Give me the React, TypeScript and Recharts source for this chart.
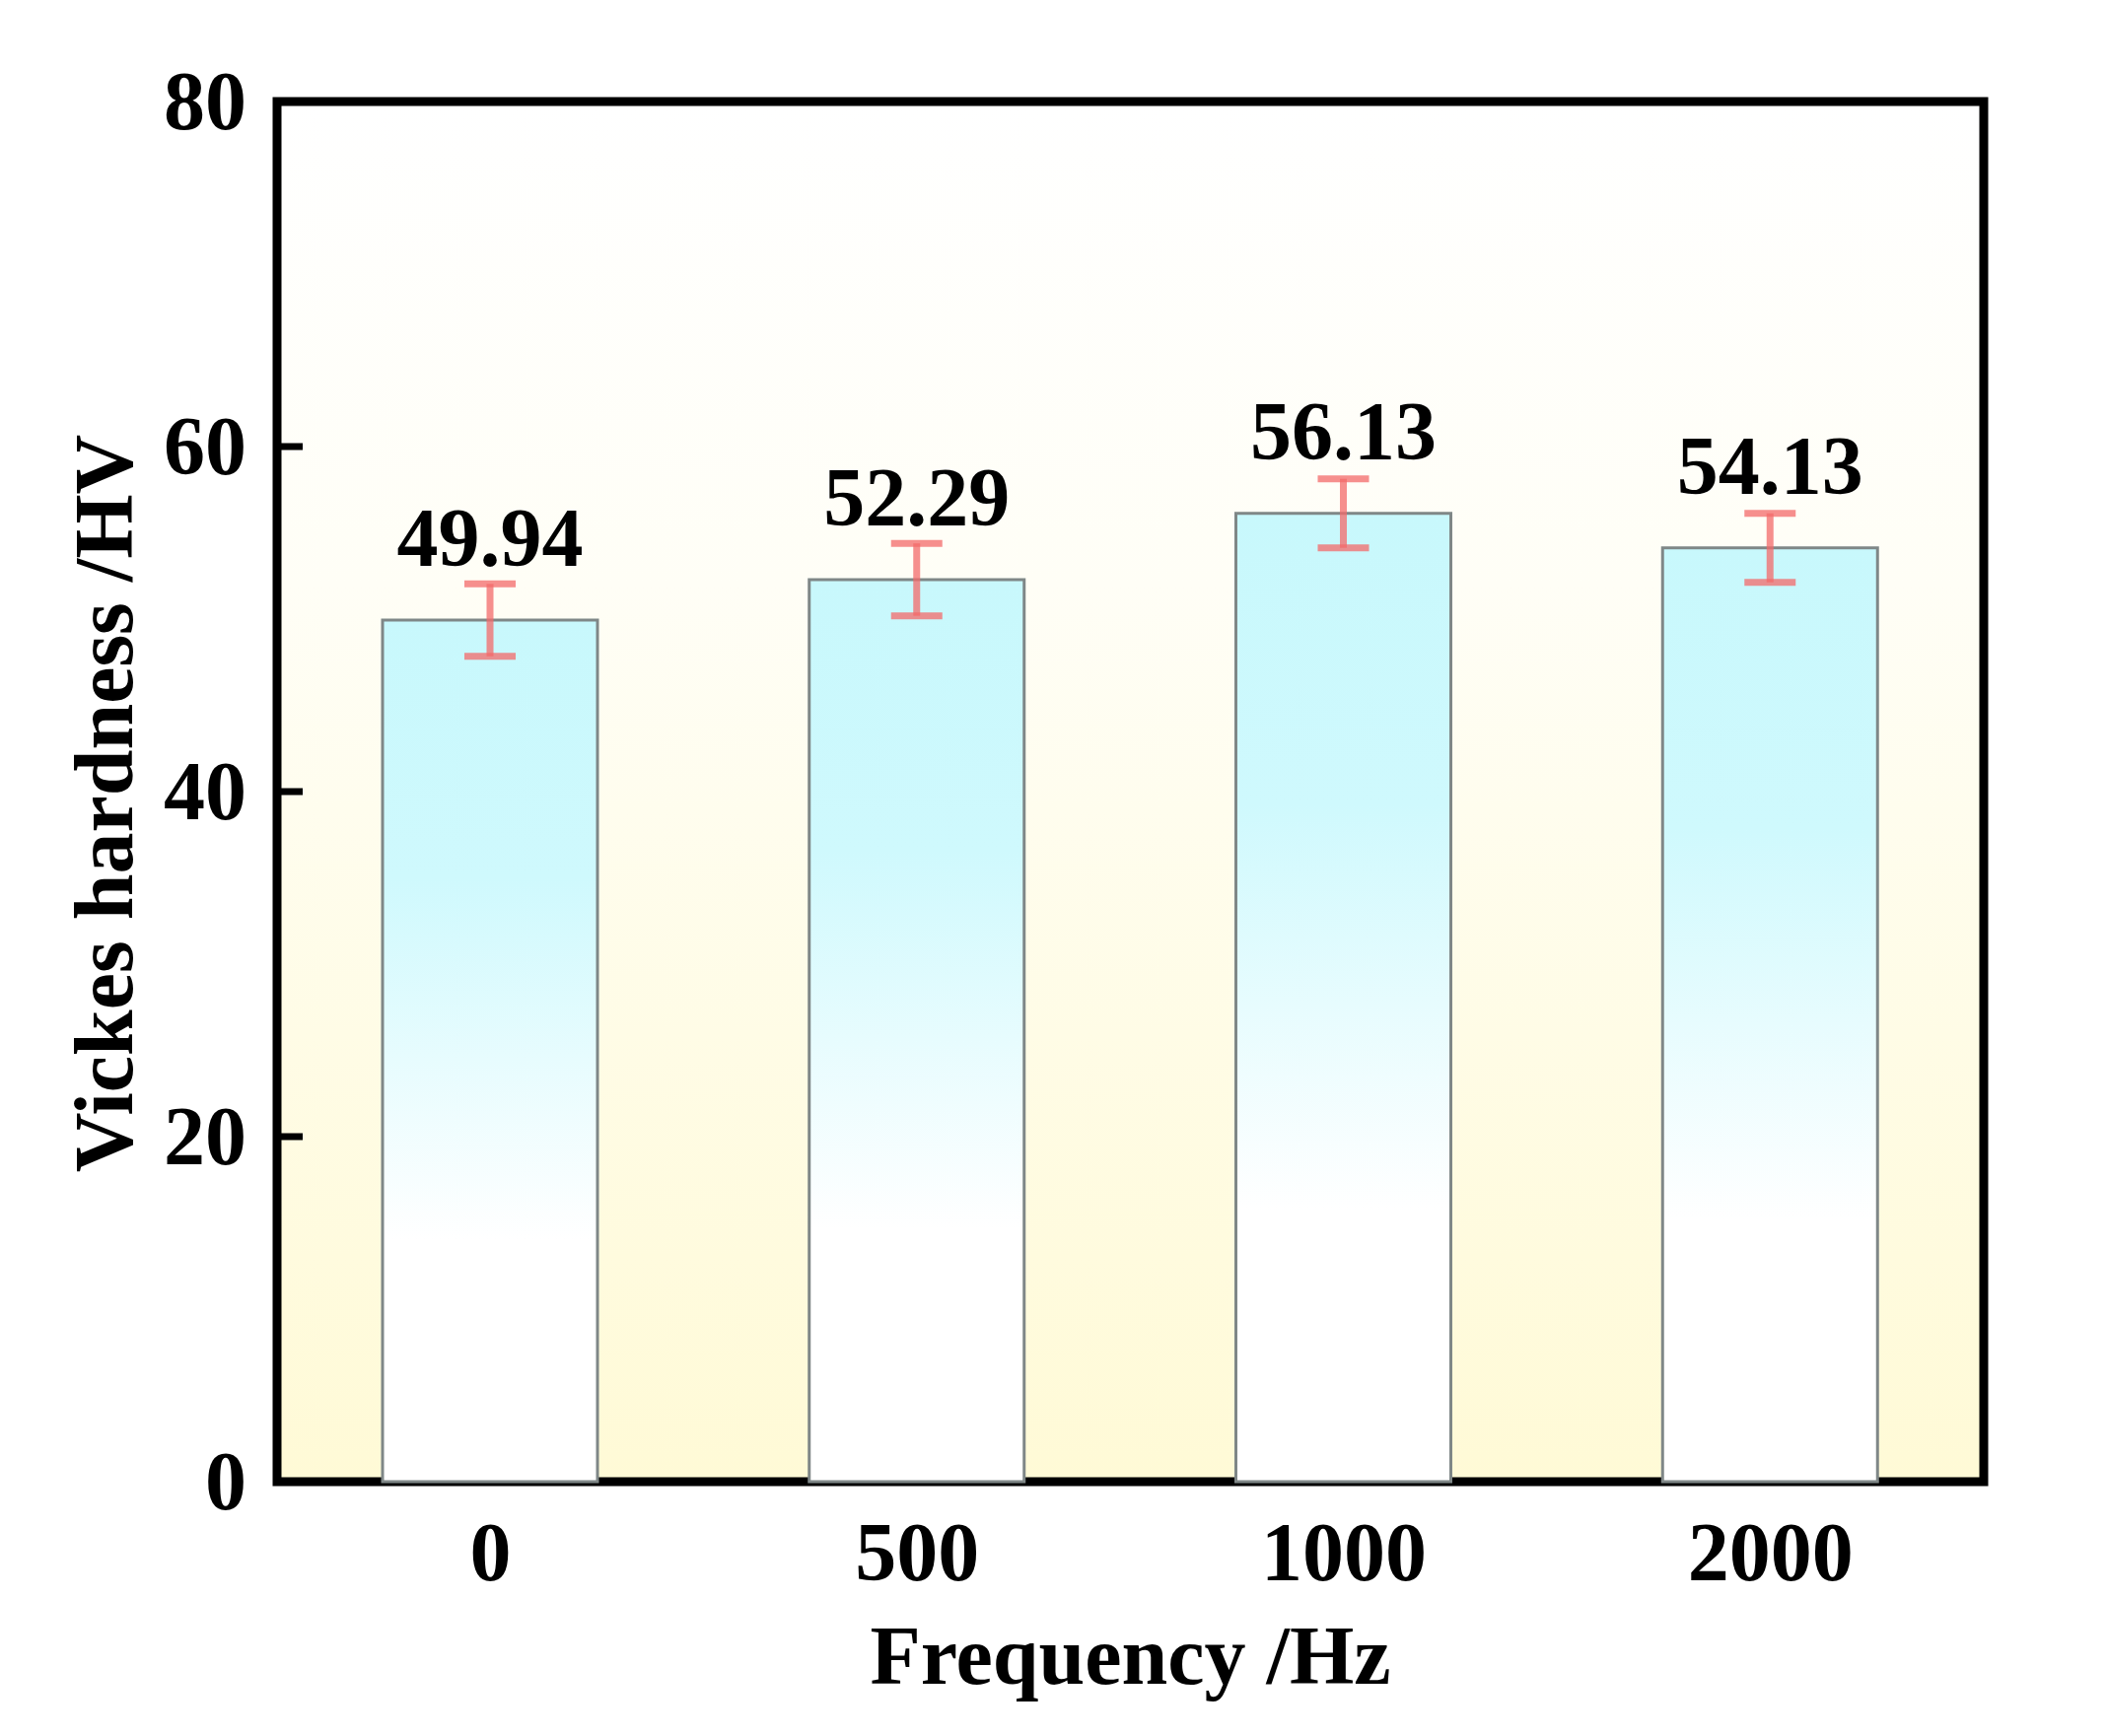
import React from 'react'
import {
  BarChart, Bar, XAxis, YAxis, CartesianGrid, ErrorBar, LabelList,
  Label, ReferenceArea,
} from 'recharts'

// Vickers hardness vs. vibration frequency
const frequencies = ['0', '500', '1000', '2000']
const hardness = [49.94, 52.29, 56.13, 54.13]
const hardnessErr = [2.1, 2.1, 2.0, 2.0]
const yTicks = [0, 20, 40, 60, 80]

const data = frequencies.map((f, i) => ({
  freq: f,
  hv: hardness[i],
  err: hardnessErr[i],
}))

const FONT = '"Liberation Serif", "Times New Roman", serif'
const textStyle = { fontFamily: FONT, fontWeight: 700, fontSize: 84, fill: '#000' }

const Y_AXIS_W = 281
const TICK_LEN = 26

// y ticks point into the plot, label sits outside
const renderYTick = (props: any) => {
  const { y, payload } = props
  return (
    <g>
      <line x1={Y_AXIS_W} x2={Y_AXIS_W + TICK_LEN} y1={y} y2={y} stroke="#000" strokeWidth={7} />
      <text x={Y_AXIS_W - 31} y={y} dy="0.33em" textAnchor="end" style={textStyle}>
        {payload.value}
      </text>
    </g>
  )
}

const renderYTitle = (props: any) => {
  const vb = props.viewBox
  const cx = 134
  const cy = vb.y + vb.height / 2 + 12
  return (
    <text x={cx} y={cy} textAnchor="middle" transform={`rotate(-90 ${cx} ${cy})`} style={textStyle}>
      Vickes hardness /HV
    </text>
  )
}

const renderXTitle = (props: any) => {
  const vb = props.viewBox
  return (
    <text x={vb.x + vb.width / 2} y={1708} textAnchor="middle" style={textStyle}>
      Frequency /Hz
    </text>
  )
}

export default function App() {
  return (
    <div style={{ position: 'absolute', left: 0, top: 0, background: '#fff' }}>
      <BarChart
        width={2137}
        height={1761}
        data={data}
        margin={{ top: 103, right: 125, left: 0, bottom: 158 }}
      >
        <defs>
          <linearGradient id="plotBg" x1="0" y1="0" x2="0" y2="1">
            <stop offset="0%" stopColor="#ffffff" />
            <stop offset="35%" stopColor="#fffef6" />
            <stop offset="100%" stopColor="#fffad6" />
          </linearGradient>
          <linearGradient id="barFill" x1="0" y1="0" x2="0" y2="1">
            <stop offset="0%" stopColor="#c8f8fc" />
            <stop offset="30%" stopColor="#cff9fd" />
            <stop offset="72%" stopColor="#ffffff" />
            <stop offset="100%" stopColor="#ffffff" />
          </linearGradient>
        </defs>
        <CartesianGrid horizontal={false} vertical={false} fill="url(#plotBg)" />
        <XAxis
          dataKey="freq"
          axisLine={false}
          tickLine={false}
          tickSize={0}
          tickMargin={40}
          height={100}
          tick={textStyle}
        >
          <Label content={renderXTitle} />
        </XAxis>
        <YAxis
          domain={[0, 80]}
          ticks={yTicks}
          width={Y_AXIS_W}
          axisLine={false}
          tickLine={false}
          tick={renderYTick}
        >
          <Label content={renderYTitle} />
        </YAxis>
        <Bar
          dataKey="hv"
          barSize={218}
          fill="url(#barFill)"
          stroke="#7f8787"
          strokeWidth={3}
          isAnimationActive={false}
        >
          <ErrorBar
            dataKey="err"
            width={26}
            stroke="#f36a6a"
            strokeWidth={7}
            strokeOpacity={0.75}
            direction="y"
            isAnimationActive={false}
          />
          <LabelList dataKey="hv" position="top" offset={55} style={textStyle} />
        </Bar>
        <ReferenceArea
          y1={0}
          y2={80}
          fill="none"
          stroke="#000"
          strokeWidth={9}
          ifOverflow="visible"
        />
      </BarChart>
    </div>
  )
}
